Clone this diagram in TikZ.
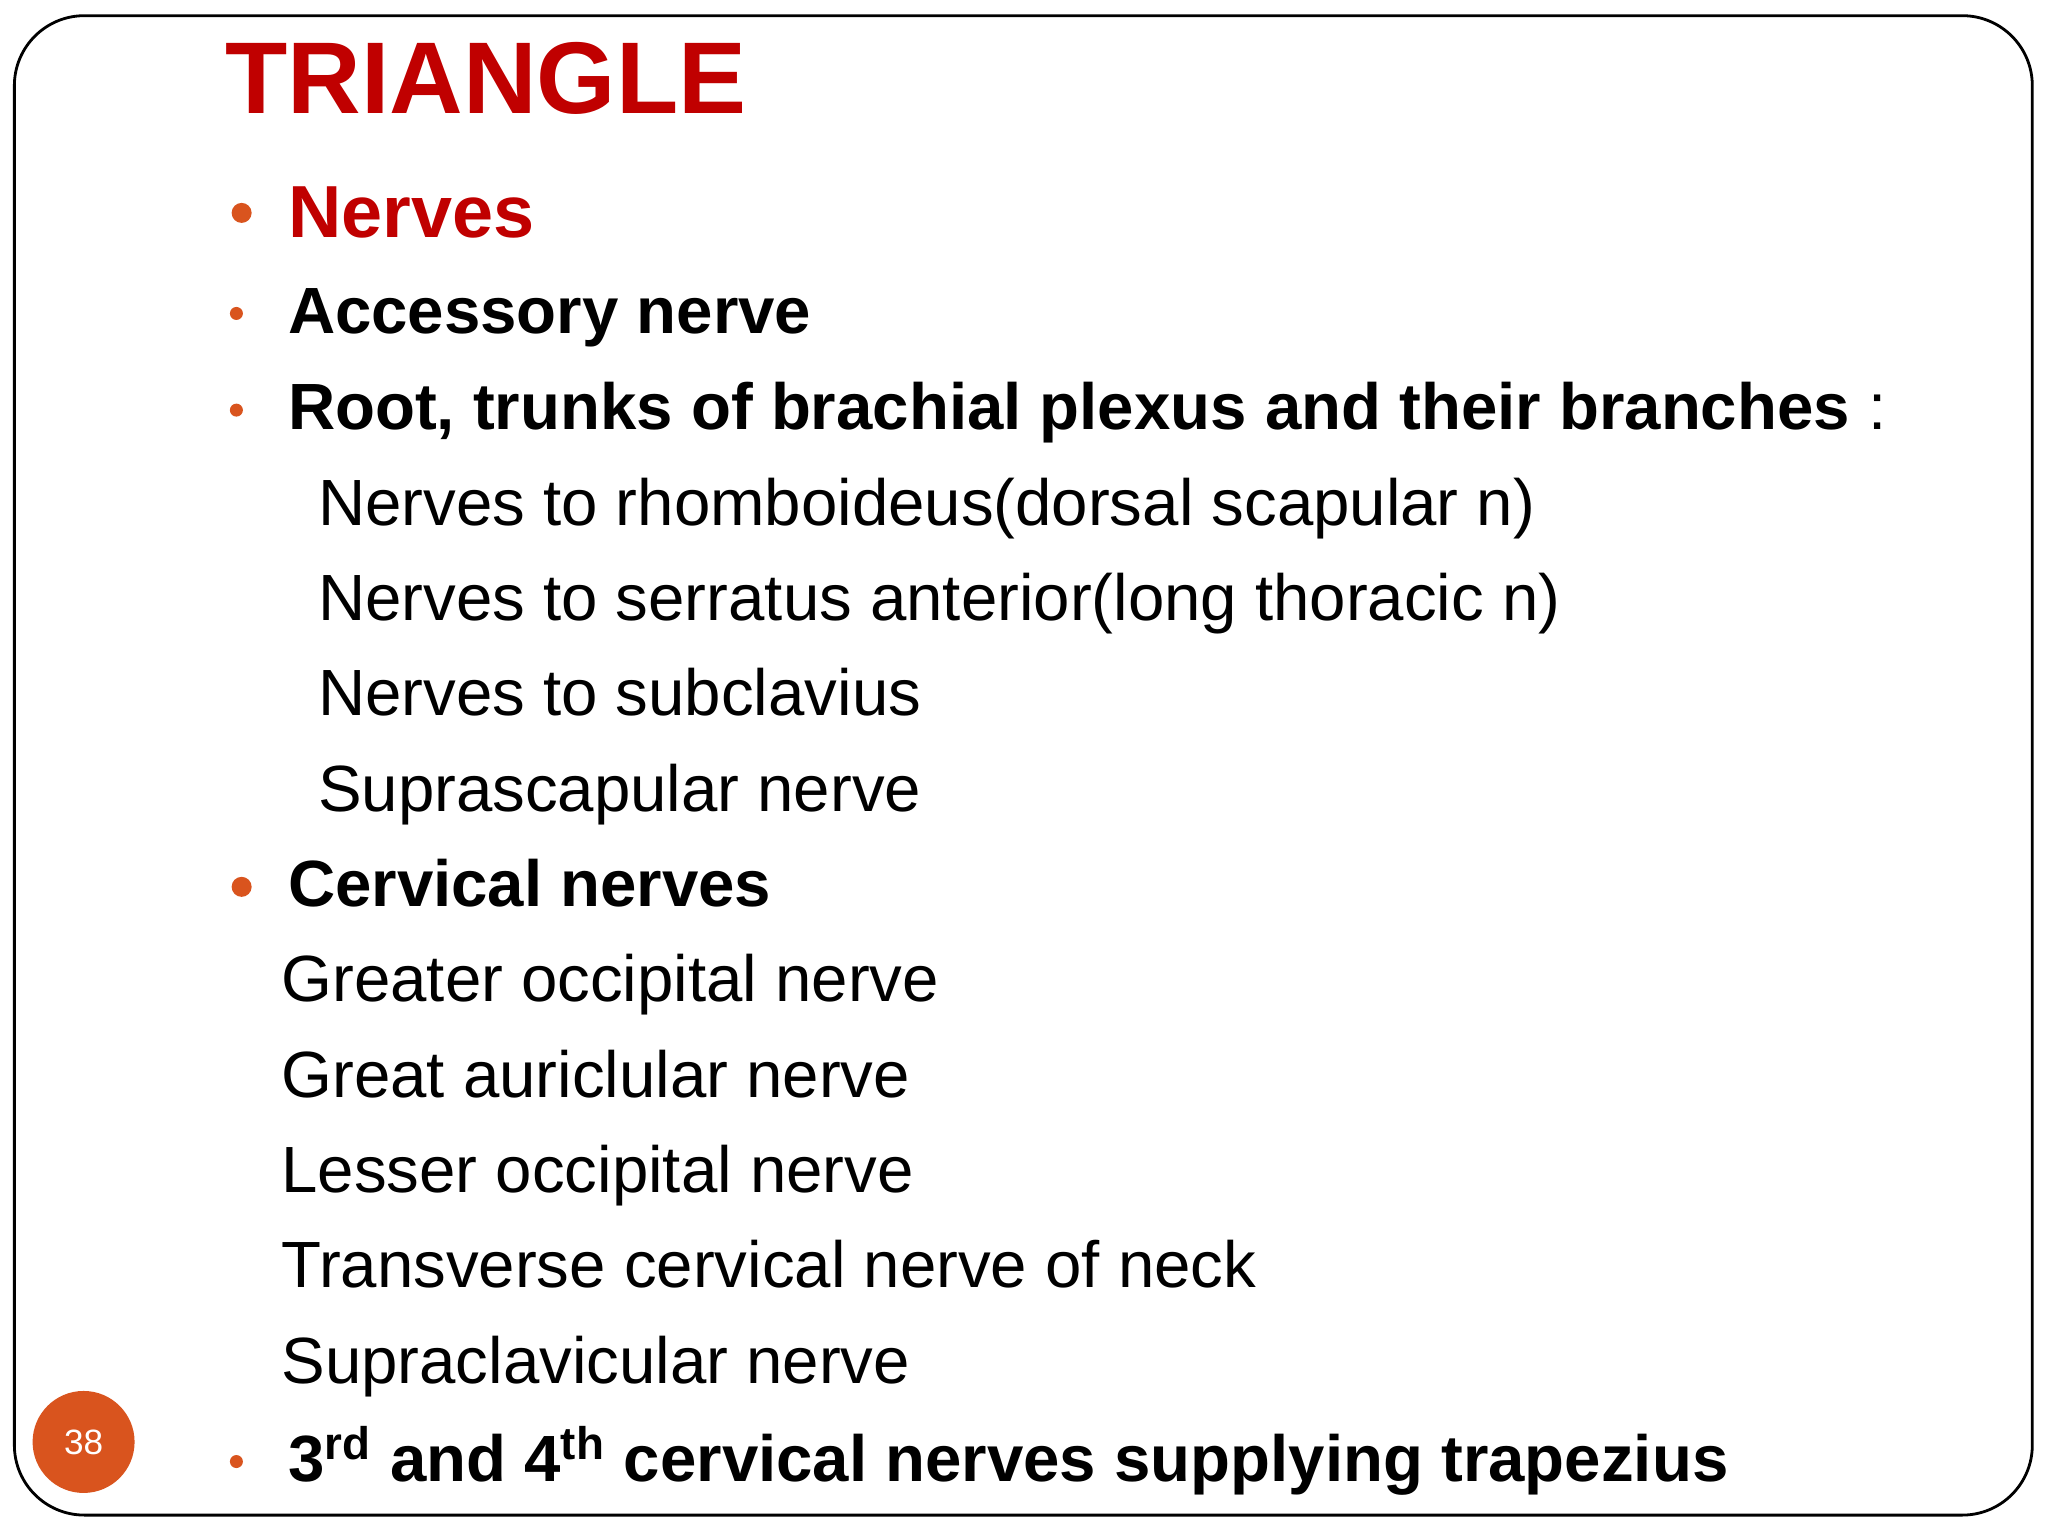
\documentclass[tikz,border=0pt]{standalone}
\usepackage{fontspec}
\setmainfont{Liberation Sans}
\definecolor{tred}{HTML}{C00000}
\definecolor{bul}{HTML}{D9541E}
\begin{document}
\begin{tikzpicture}[x=0.013061cm,y=-0.013061cm,
 tx/.style={anchor=base west,inner sep=0pt,font=\fontsize{18.6}{20}\selectfont},
 bx/.style={anchor=base west,inner sep=0pt,font=\fontsize{18.6}{21}\selectfont\bfseries},
 bigdot/.style={circle,fill=bul,minimum size=0.2cm,inner sep=0pt},
 smalldot/.style={circle,fill=bul,minimum size=0.13cm,inner sep=0pt}]
\useasboundingbox (0,0) rectangle (1568,1176);
\fill[white] (0,0) rectangle (1568,1176);
\draw[line width=0.8pt,rounded corners=0.7cm] (11,12) rectangle (1556,1160);
\node[tx,font=\fontsize{29}{31}\selectfont\bfseries,text=tred] (title) at (172,87) {TRIANGLE};
\node[bigdot] (d1) at (185,163) {};
\node[tx,font=\fontsize{21}{23}\selectfont\bfseries,text=tred] (n) at (220,182) {Nerves};
\node[smalldot] (d2) at (181,240) {};
\node[bx] (a) at (220,255) {Accessory nerve};
\node[smalldot] (d3) at (181,314) {};
\node[bx] (r) at (220,329) {Root, trunks of brachial plexus and their branches \textmd{:}};
\node[tx] (r1) at (243,402) {Nerves to rhomboideus(dorsal scapular n)};
\node[tx] (r2) at (243,475) {Nerves to serratus anterior(long thoracic n)};
\node[tx] (r3) at (243,548) {Nerves to subclavius};
\node[tx] (r4) at (243,621) {Suprascapular nerve};
\node[bigdot] (d4) at (185,679) {};
\node[bx] (c) at (220,694) {Cervical nerves};
\node[tx] (c1) at (215,767) {Greater occipital nerve};
\node[tx] (c2) at (215,840) {Great auriclular nerve};
\node[tx] (c3) at (215,913) {Lesser occipital nerve};
\node[tx] (c4) at (215,986) {Transverse cervical nerve of neck};
\node[tx] (c5) at (215,1059) {Supraclavicular nerve};
\node[smalldot] (d5) at (181,1119) {};
\node[bx] (t) at (220,1134) {3\textsuperscript{rd} and 4\textsuperscript{th} cervical nerves supplying trapezius};
\node[circle,fill=bul,minimum size=1.02cm,inner sep=0pt,text=white,font=\fontsize{10}{12}\selectfont] (pg) at (64,1104) {38};
\end{tikzpicture}
\end{document}
